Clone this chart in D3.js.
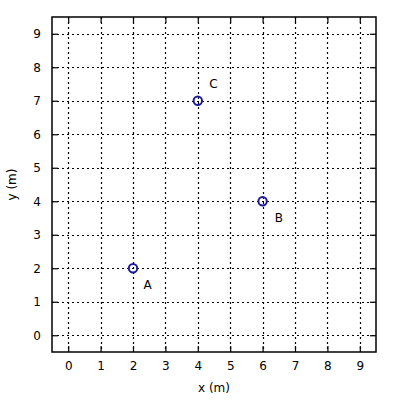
<!DOCTYPE html>
<html><head><meta charset="utf-8">
<script src="https://cdn.jsdelivr.net/npm/d3@7"></script>
<style>body{margin:0;background:#fff}svg{display:block}text{font-family:"DejaVu Sans",sans-serif;font-size:12px;fill:#000}</style>
</head><body><svg id="c" width="393" height="401"></svg>
<script>
const names = ["A","B","C"];
const xs = [2,6,4];
const ys = [2,4,7];
const labelXs = [2.45,6.5,4.48];
const labelYs = [1.5,3.5,7.5];
const xTicks = [0,1,2,3,4,5,6,7,8,9];
const yTicks = [0,1,2,3,4,5,6,7,8,9];

const svg = d3.select("#c");
const L=52, R=376, T=17, B=352;
const x = d3.scaleLinear().domain([-0.5,9.5]).range([L,R]);
const y = d3.scaleLinear().domain([-0.5,9.5]).range([B,T]);

const g = svg.append("g");
g.selectAll(".gx").data(xTicks).join("line")
 .attr("x1",d=>Math.round(x(d))+0.5).attr("x2",d=>Math.round(x(d))+0.5)
 .attr("y1",T).attr("y2",B).attr("stroke","#000").attr("stroke-width",1.2).attr("stroke-dasharray","2,3");
g.selectAll(".gy").data(yTicks).join("line")
 .attr("y1",d=>Math.round(y(d))+0.5).attr("y2",d=>Math.round(y(d))+0.5)
 .attr("x1",L).attr("x2",R).attr("stroke","#000").attr("stroke-width",1.2).attr("stroke-dasharray","2,3");

const ax = (axis, tr) => { const a=svg.append("g").attr("transform",tr).call(axis); a.select(".domain").remove(); a.selectAll("line").attr("stroke-width",1.2); return a; };
ax(d3.axisBottom(x).tickValues(xTicks).tickSize(-6).tickPadding(9).tickFormat(d3.format("d")), `translate(0,${B})`);
ax(d3.axisTop(x).tickValues(xTicks).tickSize(-6).tickFormat(""), `translate(0,${T})`);
ax(d3.axisLeft(y).tickValues(yTicks).tickSize(-6).tickPadding(11).tickFormat(d3.format("d")), `translate(${L},0)`);
ax(d3.axisRight(y).tickValues(yTicks).tickSize(-6).tickFormat(""), `translate(${R},0)`);
svg.selectAll(".tick text").style("font-family","DejaVu Sans").style("font-size","12px");

svg.append("rect").attr("x",L).attr("y",T).attr("width",R-L).attr("height",B-T)
 .attr("fill","none").attr("stroke","#000").attr("stroke-width",1.5);

svg.selectAll(".pt").data(xs).join("circle")
 .attr("cx",(d,i)=>x(d)).attr("cy",(d,i)=>y(ys[i])).attr("r",4.2)
 .attr("fill","none").attr("stroke","#1a1a9e").attr("stroke-width",2);
svg.selectAll(".lb").data(names).join("text")
 .attr("x",(d,i)=>x(labelXs[i])).attr("y",(d,i)=>y(labelYs[i])).attr("dy","0.35em")
 .attr("text-anchor","middle").text(d=>d);

svg.append("text").attr("x",(L+R)/2).attr("y",392).attr("text-anchor","middle").text("x (m)");
svg.append("text").attr("transform",`translate(16,${(T+B)/2}) rotate(-90)`).attr("text-anchor","middle").text("y (m)");
</script></body></html>
